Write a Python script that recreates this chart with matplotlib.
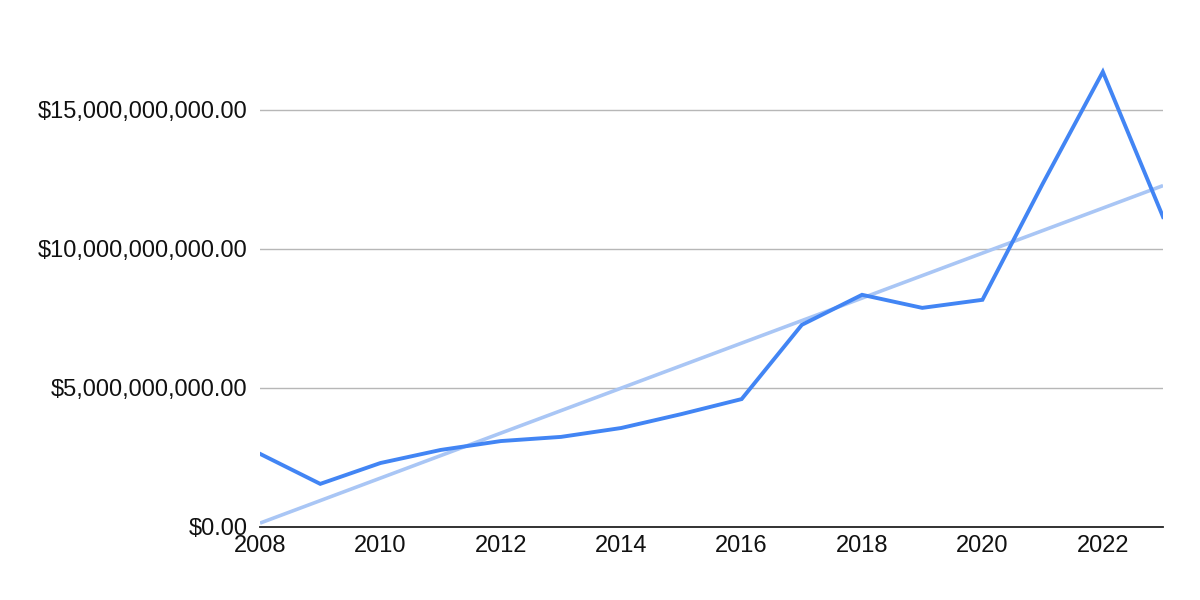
import numpy as np
import matplotlib
matplotlib.use("Agg")
import matplotlib.pyplot as plt
from matplotlib.ticker import FuncFormatter

# Values (USD)
years = [2008, 2009, 2010, 2011, 2012, 2013, 2014, 2015,
         2016, 2017, 2018, 2019, 2020, 2021, 2022, 2023]
values = [2.63e9, 1.55e9, 2.30e9, 2.77e9, 3.09e9, 3.24e9, 3.56e9, 4.06e9,
          4.60e9, 7.27e9, 8.35e9, 7.88e9, 8.17e9, 12.34e9, 16.37e9, 11.15e9]
y_ticks = [0, 5e9, 10e9, 15e9]
x_ticks = [2008, 2010, 2012, 2014, 2016, 2018, 2020, 2022]

plt.rcParams["font.family"] = ["Liberation Sans", "DejaVu Sans"]

fig = plt.figure(figsize=(12, 6), dpi=100)
ax = fig.add_axes([0.2167, 0.1217, 0.7525, 0.811])

# Linear trendline, as in the spreadsheet chart
x = np.array(years, dtype=float)
slope, intercept = np.polyfit(x, values, 1)
ax.plot(x, slope * x + intercept, color="#a9c6f5", linewidth=2.6, zorder=2,
        solid_capstyle="butt")

ax.plot(years, values, color="#4285f4", linewidth=2.8, zorder=3,
        solid_joinstyle="miter")

ax.set_xlim(2008, 2023)
ax.set_ylim(0, 17.5e9)
ax.set_xticks(x_ticks)
ax.set_yticks(y_ticks)
ax.yaxis.set_major_formatter(FuncFormatter(lambda v, p: f"${v:,.2f}"))

ax.grid(axis="y", color="#b7b7b7", linewidth=1.0, zorder=1)
ax.tick_params(axis="both", length=0, labelsize=17, colors="#111111")
ax.tick_params(axis="y", pad=9)
ax.tick_params(axis="x", pad=6)

for side in ["top", "right", "left"]:
    ax.spines[side].set_visible(False)
ax.spines["bottom"].set_color("#222222")
ax.spines["bottom"].set_linewidth(1.3)
ax.spines["bottom"].set_zorder(4)

fig.savefig("out.png", dpi=100)
